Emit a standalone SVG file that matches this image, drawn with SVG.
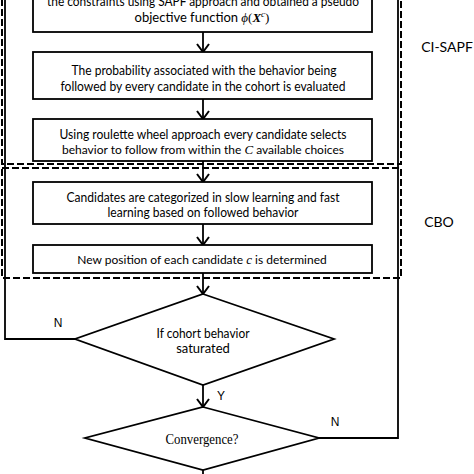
<svg xmlns="http://www.w3.org/2000/svg" width="474" height="474" viewBox="0 0 474 474">
<style>
.box{fill:#fff;stroke:#000;stroke-width:1.8}
.t{font-family:Lato,"Liberation Sans",sans-serif;font-size:13px;fill:#000;text-anchor:middle}
.s{font-size:12px}
.m{font-family:"Liberation Serif","DejaVu Serif",serif;font-style:italic}
.lbl{font-family:Lato,"Liberation Sans",sans-serif;font-size:14px;fill:#000;text-anchor:middle}
.yn{font-family:"Liberation Sans",Arial,sans-serif;font-size:12px;fill:#000;text-anchor:middle}
.dash{fill:none;stroke:#000;stroke-width:2;stroke-dasharray:7 3}
.ln{fill:none;stroke:#000;stroke-width:1.8}
.arr{fill:none;stroke:#000;stroke-width:1.8;marker-end:url(#ah)}
</style>
<defs>
<marker id="ah" viewBox="0 0 10 14" refX="9" refY="7" markerWidth="10" markerHeight="14" orient="auto" markerUnits="userSpaceOnUse">
<polyline points="1,1 9,7 1,13" fill="none" stroke="#000" stroke-width="2"/>
</marker>
</defs>
<rect width="474" height="474" fill="#fff"/>
<g id="groups">
<rect class="dash" x="2" y="-10" width="399" height="174"/>
<rect class="dash" x="2" y="168" width="399" height="110"/>
<text class="lbl" x="447" y="52">CI-SAPF</text>
<text class="lbl" x="439" y="227">CBO</text>
</g>
<g id="connectors">
<line class="arr" x1="203" y1="32" x2="203" y2="52"/>
<line class="arr" x1="203" y1="99" x2="203" y2="119"/>
<line class="arr" x1="203" y1="161" x2="203" y2="182"/>
<line class="arr" x1="203" y1="224" x2="203" y2="245"/>
<line class="arr" x1="203" y1="273" x2="203" y2="294"/>
<line class="arr" x1="203" y1="385" x2="203" y2="407"/>
<line class="ln" x1="203" y1="470" x2="203" y2="480"/>
<polyline class="ln" points="75,339 5,339 5,-5"/>
<polyline class="ln" points="319,438 398,438 398,-5"/>
<text class="yn" x="221" y="400">Y</text>
<text class="yn" x="58" y="327">N</text>
<text class="yn" x="335" y="426">N</text>
</g>
<g id="n1">
<rect class="box" x="33" y="-20" width="339" height="52"/>
<text class="t" x="203" y="5.5" textLength="312" lengthAdjust="spacingAndGlyphs">the constraints using SAPF approach and obtained a pseudo</text>
<text class="t" x="202" y="21.5">objective function <tspan class="m">ϕ</tspan><tspan class="m" style="font-style:normal">(</tspan><tspan class="m" style="font-weight:bold">X</tspan><tspan class="m" style="font-size:9px" dy="-5">c</tspan><tspan class="m" style="font-style:normal" dy="5">)</tspan></text>
</g>
<g id="n2">
<rect class="box" x="33" y="52" width="339" height="47"/>
<text class="t" x="204" y="74.5" textLength="265" lengthAdjust="spacingAndGlyphs">The probability associated with the behavior being</text>
<text class="t" x="203" y="90.5" textLength="285" lengthAdjust="spacingAndGlyphs">followed by every candidate in the cohort is evaluated</text>
</g>
<g id="n3">
<rect class="box" x="33" y="119" width="339" height="42"/>
<text class="t" x="203" y="138.5" textLength="287" lengthAdjust="spacingAndGlyphs">Using roulette wheel approach every candidate selects</text>
<text class="t s" x="203" y="153.5">behavior to follow from within the <tspan class="m" style="font-size:13px">C</tspan> available choices</text>
</g>
<g id="n4">
<rect class="box" x="33" y="182" width="339" height="42"/>
<text class="t" x="203" y="201.5" textLength="273" lengthAdjust="spacingAndGlyphs">Candidates are categorized in slow learning and fast</text>
<text class="t" x="203" y="216.5" textLength="191" lengthAdjust="spacingAndGlyphs">learning based on followed behavior</text>
</g>
<g id="n5">
<rect class="box" x="33" y="245" width="339" height="28"/>
<text class="t s" x="202" y="263.5">New position of each candidate <tspan class="m" style="font-size:13px">c</tspan> is determined</text>
</g>
<g id="d1">
<polygon class="box" points="203,294 334,339 203,385 75,339"/>
<text class="t" x="203" y="337.5" textLength="93" lengthAdjust="spacingAndGlyphs">If cohort behavior</text>
<text class="t" x="203" y="352.5">saturated</text>
</g>
<g id="d2">
<polygon class="box" points="203,407 319,438 203,470 85,438"/>
<text x="202" y="444" font-family="'Liberation Serif','Times New Roman',serif" font-size="14" text-anchor="middle" textLength="73" lengthAdjust="spacingAndGlyphs">Convergence?</text>
</g>
</svg>
